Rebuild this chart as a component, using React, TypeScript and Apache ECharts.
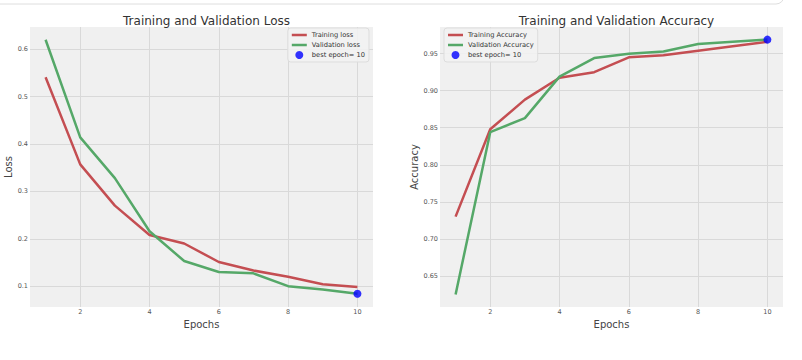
import React, { useEffect, useRef } from "react";
import * as echarts from "echarts";

const epochs = [1, 2, 3, 4, 5, 6, 7, 8, 9, 10];
const trainLoss = [0.541, 0.357, 0.27, 0.208, 0.19, 0.151, 0.133, 0.12, 0.104, 0.098];
const valLoss = [0.62, 0.414, 0.328, 0.216, 0.153, 0.13, 0.127, 0.1, 0.093, 0.084];
const trainAcc = [0.73, 0.848, 0.888, 0.9175, 0.925, 0.945, 0.948, 0.954, 0.96, 0.966];
const valAcc = [0.625, 0.844, 0.863, 0.919, 0.944, 0.95, 0.953, 0.963, 0.966, 0.969];
const bestEpoch = 10;
const bestLoss = 0.084;
const bestAcc = 0.969;

const FONT = "DejaVu Sans";
const RED = "#c44e52";
const GREEN = "#55a868";
const BLUE = "#0000ff";
const LINE_ICON = "path://M0,0h0.01v0.01h-0.01zM0,2.8h15v2.4h-15zM14.99,7.99h0.01v0.01h-0.01z";

export default function App() {
  const ref = useRef<HTMLDivElement>(null);
  useEffect(() => {
    if (!ref.current) return;
    const chart = echarts.init(ref.current, undefined, { renderer: "svg" });
    const pairs = (ys: number[]) => epochs.map((e, i) => [e, ys[i]]);
    const xAxisBase = (gridIndex: number) => ({
      type: "value" as const,
      gridIndex,
      min: 0.55,
      max: 10.45,
      splitNumber: 5,
      name: "Epochs",
      nameLocation: "middle" as const,
      nameGap: 10,
      nameTextStyle: { fontFamily: FONT, fontSize: 10, color: "#444" },
      axisLine: { show: false },
      axisTick: { show: false },
      axisLabel: {
        fontFamily: FONT,
        fontSize: 6.5,
        color: "#555",
        margin: 1,
        showMinLabel: false,
        showMaxLabel: false,
      },
      splitLine: { show: true, showMinLine: false, showMaxLine: false, lineStyle: { color: "#d9d9d9", width: 1 } },
    });
    const yAxisBase = (
      gridIndex: number,
      name: string,
      min: number,
      max: number,
      splitNumber: number,
      gap: number,
      digits: number
    ) => ({
      type: "value" as const,
      gridIndex,
      min,
      max,
      splitNumber,
      name,
      nameLocation: "middle" as const,
      nameGap: gap,
      nameTextStyle: { fontFamily: FONT, fontSize: 10, color: "#444" },
      axisLine: { show: false },
      axisTick: { show: false },
      axisLabel: {
        fontFamily: FONT,
        fontSize: 6.5,
        color: "#555",
        margin: 2,
        showMinLabel: false,
        showMaxLabel: false,
        formatter: (v: number) => v.toFixed(digits),
      },
      splitLine: { show: true, showMinLine: false, showMaxLine: false, lineStyle: { color: "#d9d9d9", width: 1 } },
    });
    const legendBase = {
      orient: "vertical" as const,
      top: 28,
      itemWidth: 15,
      itemHeight: 8,
      itemGap: 2,
      padding: [3, 4, 3, 4],
      backgroundColor: "rgba(242,242,242,0.85)",
      borderColor: "#dddddd",
      borderWidth: 1,
      borderRadius: 3,
      textStyle: { fontFamily: FONT, fontSize: 6.7, color: "#333", padding: [0, 0, 0, 0] },
    };
    chart.setOption({
      animation: false,
      backgroundColor: "#ffffff",
      graphic: [
        {
          type: "rect",
          shape: { x: -10, y: -20, width: 794, height: 24, r: 8 },
          style: { fill: "#ffffff", stroke: "#dedede", lineWidth: 1 },
          silent: true,
        },
      ],
      title: [
        {
          text: "Training and Validation Loss",
          left: 201.5,
          textAlign: "center",
          top: 10,
          textStyle: { fontFamily: FONT, fontSize: 12, fontWeight: "normal", color: "#333" },
        },
        {
          text: "Training and Validation Accuracy",
          left: 611.5,
          textAlign: "center",
          top: 10,
          textStyle: { fontFamily: FONT, fontSize: 12, fontWeight: "normal", color: "#333" },
        },
      ],
      legend: [
        {
          ...legendBase,
          right: 433,
          data: [
            { name: "Training loss", icon: LINE_ICON },
            { name: "Validation loss", icon: LINE_ICON },
            { name: "best epoch= 10", icon: "circle" },
          ],
        },
        {
          ...legendBase,
          left: 444,
          data: [
            { name: "Training Accuracy", icon: LINE_ICON },
            { name: "Validation Accuracy", icon: LINE_ICON },
            { name: "best epoch= 10", icon: "circle" },
          ],
        },
      ],
      grid: [
        { left: 30, width: 343, top: 27, bottom: 53, show: true, backgroundColor: "#f0f0f0", borderWidth: 0 },
        { left: 440, width: 343, top: 27, bottom: 53, show: true, backgroundColor: "#f0f0f0", borderWidth: 0 },
      ],
      xAxis: [xAxisBase(0), xAxisBase(1)],
      yAxis: [
        yAxisBase(0, "Loss", 0.056, 0.647, 5, 14, 1),
        yAxisBase(1, "Accuracy", 0.608, 0.986, 7, 18, 2),
      ],
      series: [
        {
          name: "Training loss",
          type: "line",
          xAxisIndex: 0,
          yAxisIndex: 0,
          data: pairs(trainLoss),
          showSymbol: false,
          symbol: "none",
          color: RED,
          lineStyle: { color: RED, width: 2.5 },
        },
        {
          name: "Validation loss",
          type: "line",
          xAxisIndex: 0,
          yAxisIndex: 0,
          data: pairs(valLoss),
          showSymbol: false,
          symbol: "none",
          color: GREEN,
          lineStyle: { color: GREEN, width: 2.5 },
        },
        {
          name: "best epoch= 10",
          type: "scatter",
          xAxisIndex: 0,
          yAxisIndex: 0,
          data: [[bestEpoch, bestLoss]],
          symbolSize: 8,
          color: BLUE,
          itemStyle: { color: BLUE },
          z: 5,
        },
        {
          name: "Training Accuracy",
          type: "line",
          xAxisIndex: 1,
          yAxisIndex: 1,
          data: pairs(trainAcc),
          showSymbol: false,
          symbol: "none",
          color: RED,
          lineStyle: { color: RED, width: 2.5 },
        },
        {
          name: "Validation Accuracy",
          type: "line",
          xAxisIndex: 1,
          yAxisIndex: 1,
          data: pairs(valAcc),
          showSymbol: false,
          symbol: "none",
          color: GREEN,
          lineStyle: { color: GREEN, width: 2.5 },
        },
        {
          name: "best epoch= 10",
          type: "scatter",
          xAxisIndex: 1,
          yAxisIndex: 1,
          data: [[bestEpoch, bestAcc]],
          symbolSize: 8,
          color: BLUE,
          itemStyle: { color: BLUE },
          z: 5,
        },
      ],
    });
    return () => chart.dispose();
  }, []);
  return (
    <div
      ref={ref}
      style={{ position: "fixed", left: 0, top: 0, width: 802, height: 360 }}
    />
  );
}
